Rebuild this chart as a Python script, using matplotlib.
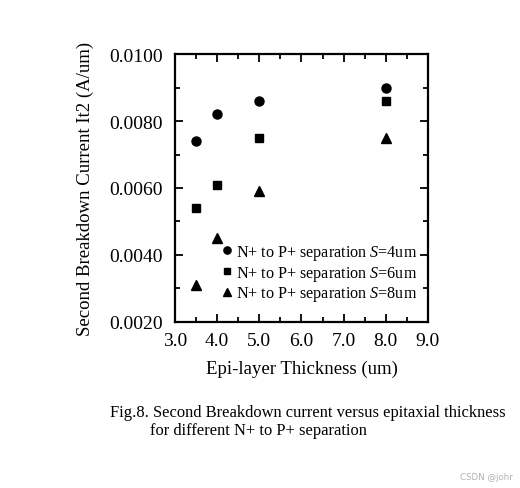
import matplotlib
matplotlib.use('Agg')
import matplotlib.pyplot as plt
from matplotlib.ticker import MultipleLocator, FormatStrFormatter
from matplotlib import rcParams

rcParams['font.family'] = ['Liberation Serif', 'DejaVu Serif']
rcParams['mathtext.fontset'] = 'custom'
rcParams['mathtext.rm'] = 'Liberation Serif'
rcParams['mathtext.it'] = 'Liberation Serif:italic'

# данные
thickness = [3.5, 4.0, 5.0, 8.0]
it2_s4 = [0.0074, 0.0082, 0.0086, 0.0090]
it2_s6 = [0.0054, 0.0061, 0.0075, 0.0086]
it2_s8 = [0.0031, 0.0045, 0.0059, 0.0075]
labels = [r'N+ to P+ separation $\it{S}$=4um',
          r'N+ to P+ separation $\it{S}$=6um',
          r'N+ to P+ separation $\it{S}$=8um']

fig = plt.figure(figsize=(5.2, 4.89), dpi=100)
ax = fig.add_axes([0.3365, 0.3395, 0.4865, 0.548])

ax.plot(thickness, it2_s4, 'o', color='k', markersize=6.5, label=labels[0])
ax.plot(thickness, it2_s6, 's', color='k', markersize=6, label=labels[1])
ax.plot(thickness, it2_s8, '^', color='k', markersize=6.5, label=labels[2])

ax.set_xlim(3.0, 9.0)
ax.set_ylim(0.0020, 0.0100)
ax.xaxis.set_major_locator(MultipleLocator(1.0))
ax.xaxis.set_minor_locator(MultipleLocator(0.5))
ax.yaxis.set_major_locator(MultipleLocator(0.002))
ax.yaxis.set_minor_locator(MultipleLocator(0.001))
ax.xaxis.set_major_formatter(FormatStrFormatter('%.1f'))
ax.yaxis.set_major_formatter(FormatStrFormatter('%.4f'))

ax.tick_params(which='both', direction='in', top=True, right=True,
               width=1.3, labelsize=14)
ax.tick_params(which='major', length=6)
ax.tick_params(which='minor', length=3.5)
ax.tick_params(axis='y', pad=8.5)
ax.tick_params(axis='x', pad=7)
for s in ax.spines.values():
    s.set_linewidth(1.6)

ax.set_xlabel('Epi-layer Thickness (um)', fontsize=13.5, labelpad=8)
ax.set_ylabel('Second Breakdown Current It2 (A/um)', fontsize=13.5, labelpad=11)

leg = ax.legend(loc='lower left', frameon=False, fontsize=11.6,
                handletextpad=0.15, handlelength=0.8, labelspacing=0.1,
                borderaxespad=0, borderpad=0, markerscale=0.8,
                bbox_to_anchor=(0.18, 0.07))

fig.text(0.212, 0.155, 'Fig.8. Second Breakdown current versus epitaxial thickness',
         fontsize=11.9, ha='left', va='center')
fig.text(0.288, 0.119, 'for different N+ to P+ separation',
         fontsize=11.9, ha='left', va='center')
fig.text(0.986, 0.024, 'CSDN @johr', fontsize=6.2, color='#b0b0b0',
         ha='right', va='center', family='DejaVu Sans')

fig.savefig('out.png', dpi=100)
